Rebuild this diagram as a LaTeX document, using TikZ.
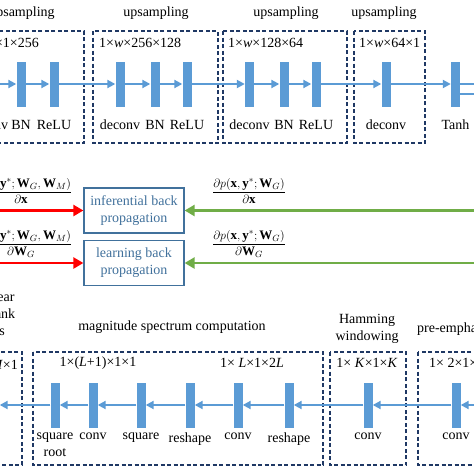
\documentclass[tikz,border=0pt]{standalone}
\usepackage{fontspec}
\setmainfont{Liberation Serif}
\usetikzlibrary{arrows.meta, positioning, calc}
\definecolor{cblock}{HTML}{5B9BD5}
\definecolor{cnavy}{HTML}{1F3864}
\definecolor{cframe}{HTML}{41719C}
\definecolor{cred}{HTML}{FF0000}
\definecolor{cgreen}{HTML}{70AD47}
\tikzset{
  every picture/.style={font=\fontsize{14}{17}\selectfont},
  blk/.style={fill=cblock, minimum width=9pt, minimum height=45pt, inner sep=0pt},
  grp/.style={draw=cnavy, line width=2pt, dash pattern=on 4pt off 2.5pt},
  flow/.style={-{Triangle[length=8pt, width=8pt]}, draw=cblock, line width=2pt},
  wire/.style={draw=cblock, line width=2pt},
  fb/.style={-{Triangle[length=10pt, width=11pt]}, draw=#1, line width=2.6pt},
  lbl/.style={inner sep=0pt, align=center},
  prop/.style={draw=cframe, line width=1.3pt, text=cframe, align=center, minimum width=100pt, minimum height=45pt, inner sep=2pt},
}

\begin{document}
\begin{tikzpicture}[x=1pt, y=-1pt,
  frac/.style={inner sep=0pt, font=\fontsize{13}{15}\selectfont}]
  \useasboundingbox (0,0) rectangle (474,474);
  \fill[white] (0,0) rectangle (474,474);
  \clip (0,0) rectangle (474,474);
  % top row: upsampling stages
  \draw[grp] (-40,31) rectangle (84,143);
  \draw[grp] (93,31) rectangle (218,143);
  \draw[grp] (223,31) rectangle (347,143);
  \draw[grp] (354,31) rectangle (425,143);
  \foreach \x in {22, 156, 286, 384} \node[lbl] at (\x,13) {upsampling};
  \node[lbl, anchor=east] (dim1) at (39,43) {1×\textit{w}×1×256};
  \node[lbl, anchor=west] (dim2) at (99,43) {1×\textit{w}×256×128};
  \node[lbl, anchor=west] (dim3) at (228,43) {1×\textit{w}×128×64};
  \node[lbl, anchor=west] (dim4) at (359,43) {1×\textit{w}×64×1};
  \foreach \n/\x/\t in {d1/-12/deconv, b1/21/BN, r1/54/ReLU, d2/120/deconv, b2/155/BN, r2/187/ReLU,
                        d3/249.5/deconv, b3/284/BN, r3/316/ReLU, d4/386/deconv, th/455.5/Tanh} {
    \node[blk] (\n) at (\x,84) {};
    \node[lbl] (\n-lab) at (\x,125) {\t};
  }
  \coordinate (gin) at (-40,84);
  \coordinate (gout1) at (480,84);
  \coordinate (gout2) at (480,94);
  \foreach \a/\b in {gin/d1, d1/b1, b1/r1, r1/d2, d2/b2, b2/r2, r2/d3, d3/b3, b3/r3, r3/d4, d4/th}
    \draw[flow] (\a) -- (\b);
  \draw[wire] (th) -- (gout1);
  \draw[wire] (th.east |- gout2) -- (gout2);
  % back propagation
  \node[prop] (inf) at (134,210.5) {inferential back\\propagation};
  \node[prop] (lrn) at (134,263) {learning back\\propagation};
  \coordinate (rin1) at (-10,210.5);
  \coordinate (rin2) at (-10,263);
  \coordinate (gin1) at (480,210.5);
  \coordinate (gin2) at (480,263);
  \draw[fb=cred] (rin1) -- (inf);
  \draw[fb=cred] (rin2) -- (lrn);
  \draw[fb=cgreen] (gin1) -- (inf);
  \draw[fb=cgreen] (gin2) -- (lrn);
  \node[frac] (fx1) at (21,191) {$\displaystyle\frac{\partial p\bigl(\mathbf{x},\mathbf{y}^{*};\mathbf{W}_G,\mathbf{W}_M\bigr)}{\partial\mathbf{x}}$};
  \node[frac] (fw1) at (21,244) {$\displaystyle\frac{\partial p\bigl(\mathbf{x},\mathbf{y}^{*};\mathbf{W}_G,\mathbf{W}_M\bigr)}{\partial\mathbf{W}_G}$};
  \node[frac] (fx2) at (249,191) {$\displaystyle\frac{\partial p\bigl(\mathbf{x},\mathbf{y}^{*};\mathbf{W}_G\bigr)}{\partial\mathbf{x}}$};
  \node[frac] (fw2) at (249,244) {$\displaystyle\frac{\partial p\bigl(\mathbf{x},\mathbf{y}^{*};\mathbf{W}_G\bigr)}{\partial\mathbf{W}_G}$};
  % bottom row: feature extraction
  \draw[grp] (-60,352) rectangle (22,465);
  \draw[grp] (33,352) rectangle (323,465);
  \draw[grp] (330,352) rectangle (406,465);
  \draw[grp] (418,352) rectangle (520,465);
  \node[lbl] (t1) at (-12,315.5) {nonlinear\\filterbank\\layers};
  \node[lbl] (t2) at (172,327) {magnitude spectrum computation};
  \node[lbl] (t3) at (367,328.5) {Hamming\\windowing};
  \node[lbl, anchor=west] (t4) at (417,329) {pre-emphasis};
  \node[lbl, anchor=east] (dim5) at (18,366) {1×(\textit{L}+1)×\textit{M}×1};
  \node[lbl] (dim6) at (98,363) {1×(\textit{L}+1)×1×1};
  \node[lbl] (dim7) at (252,363) {1× \textit{L}×1×2\textit{L}};
  \node[lbl] (dim8) at (367,363) {1× \textit{K}×1×\textit{K}};
  \node[lbl, anchor=west] (dim9) at (429,363) {1× 2×1×1};
  \node[blk] (lb) at (-5,405) {};
  \foreach \n/\x/\t in {sr/55/{square\\root}, c1/93/conv, sq/141/square, rs1/190/reshape, c2/238/conv,
                        rs2/289/reshape, hc/368/conv, pc/456/conv} {
    \node[blk] (\n) at (\x,405) {};
    \node[lbl, anchor=north] (\n-lab) at (\x,433) {\t};
  }
  \coordinate (bin) at (480,405);
  \foreach \a/\b in {bin/pc, pc/hc, hc/rs2, rs2/c2, c2/rs1, rs1/sq, sq/c1, c1/sr, sr/lb}
    \draw[flow] (\a) -- (\b);
\end{tikzpicture}
\end{document}
